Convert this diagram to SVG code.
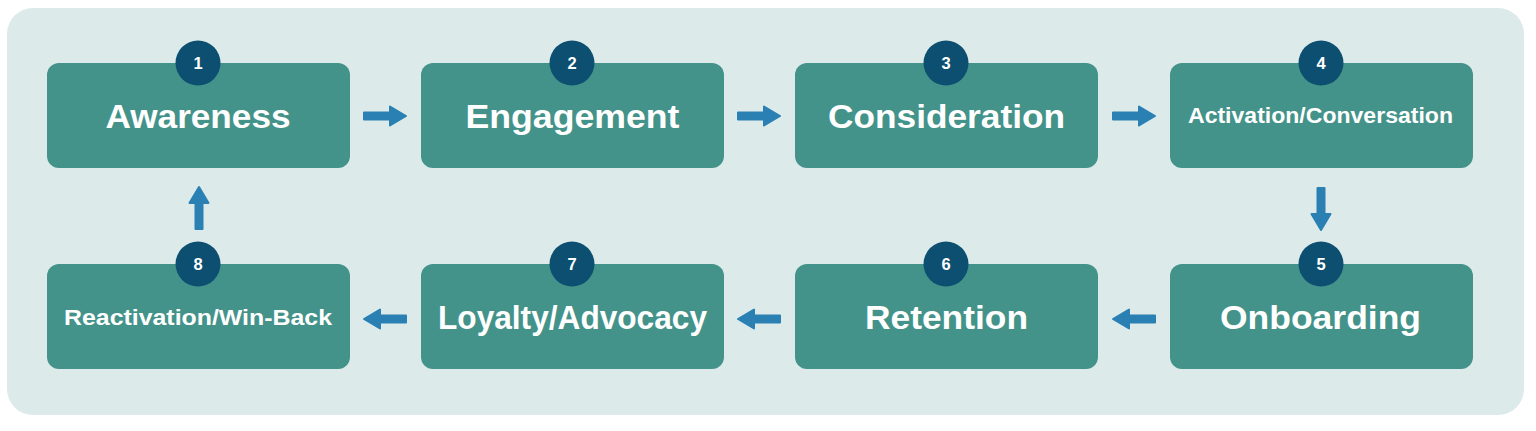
<svg xmlns="http://www.w3.org/2000/svg" width="1536" height="431" viewBox="0 0 1536 431">
  <defs>
    <style>
      .box { fill: #43938a; }
      .badge { fill: #0c4f70; }
      .num { font-family: "Liberation Sans", Arial, sans-serif; font-weight: bold; font-size: 16.5px; fill: #ffffff; text-anchor: middle; }
      .lbl { font-family: "Liberation Sans", Arial, sans-serif; font-weight: bold; fill: #ffffff; text-anchor: middle; }
      .big { font-size: 34px; }
      .small { font-size: 22px; }
      .arrow { fill: #2a80b3; stroke: #2a80b3; stroke-width: 2; stroke-linejoin: round; }
    </style>
    <path id="arrR" class="arrow" d="M1,-3.5 L27,-3.5 L27,-9.5 L43,0 L27,9.5 L27,3.5 L1,3.5 Z"/>
  </defs>
  <rect x="0" y="0" width="1536" height="431" fill="#ffffff"/>
  <rect x="7" y="8" width="1517" height="407" rx="26" fill="#ddeaea"/>

  <g id="connectors">
    <use href="#arrR" transform="translate(363,116)"/>
    <use href="#arrR" transform="translate(737,116)"/>
    <use href="#arrR" transform="translate(1112,116)"/>
    <use href="#arrR" transform="translate(1321,187) rotate(90)"/>
    <use href="#arrR" transform="translate(1156,319) rotate(180)"/>
    <use href="#arrR" transform="translate(781,319) rotate(180)"/>
    <use href="#arrR" transform="translate(407,319) rotate(180)"/>
    <use href="#arrR" transform="translate(199,230) rotate(-90)"/>
  </g>

  <g id="node1">
    <rect class="box" x="47" y="63" width="303" height="105" rx="12"/>
    <circle class="badge" cx="198" cy="63" r="22.5"/>
    <text class="num" x="198" y="69">1</text>
    <text class="lbl big" x="198" y="128" textLength="185" lengthAdjust="spacingAndGlyphs">Awareness</text>
  </g>
  <g id="node2">
    <rect class="box" x="421" y="63" width="303" height="105" rx="12"/>
    <circle class="badge" cx="572" cy="63" r="22.5"/>
    <text class="num" x="572" y="69">2</text>
    <text class="lbl big" x="572.5" y="128" textLength="214" lengthAdjust="spacingAndGlyphs">Engagement</text>
  </g>
  <g id="node3">
    <rect class="box" x="795" y="63" width="303" height="105" rx="12"/>
    <circle class="badge" cx="946" cy="63" r="22.5"/>
    <text class="num" x="946" y="69">3</text>
    <text class="lbl big" x="946.5" y="128" textLength="237" lengthAdjust="spacingAndGlyphs">Consideration</text>
  </g>
  <g id="node4">
    <rect class="box" x="1170" y="63" width="303" height="105" rx="12"/>
    <circle class="badge" cx="1321" cy="63" r="22.5"/>
    <text class="num" x="1321" y="69">4</text>
    <text class="lbl small" x="1320.5" y="123" textLength="265" lengthAdjust="spacingAndGlyphs">Activation/Conversation</text>
  </g>
  <g id="node5">
    <rect class="box" x="1170" y="264" width="303" height="105" rx="12"/>
    <circle class="badge" cx="1321" cy="264" r="22.5"/>
    <text class="num" x="1321" y="270">5</text>
    <text class="lbl big" x="1320.5" y="329" textLength="201" lengthAdjust="spacingAndGlyphs">Onboarding</text>
  </g>
  <g id="node6">
    <rect class="box" x="795" y="264" width="303" height="105" rx="12"/>
    <circle class="badge" cx="946" cy="264" r="22.5"/>
    <text class="num" x="946" y="270">6</text>
    <text class="lbl big" x="946.5" y="329" textLength="163" lengthAdjust="spacingAndGlyphs">Retention</text>
  </g>
  <g id="node7">
    <rect class="box" x="421" y="264" width="303" height="105" rx="12"/>
    <circle class="badge" cx="572" cy="264" r="22.5"/>
    <text class="num" x="572" y="270">7</text>
    <text class="lbl big" x="572.5" y="329" textLength="269" lengthAdjust="spacingAndGlyphs">Loyalty/Advocacy</text>
  </g>
  <g id="node8">
    <rect class="box" x="47" y="264" width="303" height="105" rx="12"/>
    <circle class="badge" cx="198" cy="264" r="22.5"/>
    <text class="num" x="198" y="270">8</text>
    <text class="lbl small" x="198" y="325" textLength="268" lengthAdjust="spacingAndGlyphs">Reactivation/Win-Back</text>
  </g>
</svg>
